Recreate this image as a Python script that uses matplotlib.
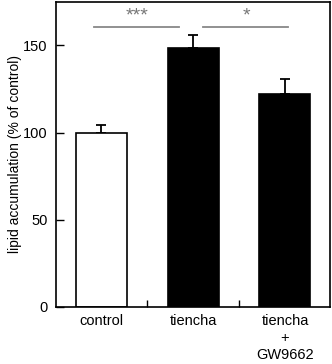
import matplotlib
matplotlib.use("Agg")
import matplotlib.pyplot as plt

plt.rcParams['font.family'] = ['Liberation Sans', 'DejaVu Sans']

groups = ['control', 'tiencha', 'tiencha\n+\nGW9662']
values = [100, 148.4, 122.4]
errors = [4.6, 7.3, 8.1]
colors = ['white', 'black', 'black']

# significance brackets: (x start, x end, y, label)
sig_lines = [(-0.08, 0.85, 160.5, '***'), (1.11, 2.03, 160.5, '*')]

fig = plt.figure(figsize=(3.32, 3.64), dpi=100)
ax = fig.add_axes([0.169, 0.157, 0.825, 0.838])

x = range(len(groups))
ax.bar(x, values, width=0.555, color=colors, edgecolor='black', linewidth=1.2, zorder=2)
ax.errorbar(x, values, yerr=[[0] * len(errors), errors], fmt='none', ecolor='black',
            elinewidth=1.3, capsize=3.3, capthick=1.3, zorder=1)

for x0, x1, y, lab in sig_lines:
    ax.plot([x0, x1], [y, y], color='#888888', linewidth=1.3)
    ax.text((x0 + x1) / 2 + 0.01, y + 1.5, lab, ha='center', va='bottom', fontsize=14,
            color='#777777')

ax.set_xlim(-0.49, 2.49)
ax.set_ylim(0, 175)
ax.set_yticks([0, 50, 100, 150])
ax.set_xticks(list(x))
ax.set_xticklabels(groups, fontsize=10.5, linespacing=1.3, va='top')
ax.set_xticks([0.5, 1.5], minor=True)
ax.tick_params(axis='x', which='major', length=0, pad=5)
ax.tick_params(axis='x', which='minor', direction='in', length=5, width=1)
ax.tick_params(axis='y', direction='in', length=6, width=1, labelsize=10.5, pad=6)
ax.set_ylabel('lipid accumulation (% of control)', fontsize=10, labelpad=1)

for s in ax.spines.values():
    s.set_linewidth(1.2)

plt.savefig('out.png', dpi=100)
